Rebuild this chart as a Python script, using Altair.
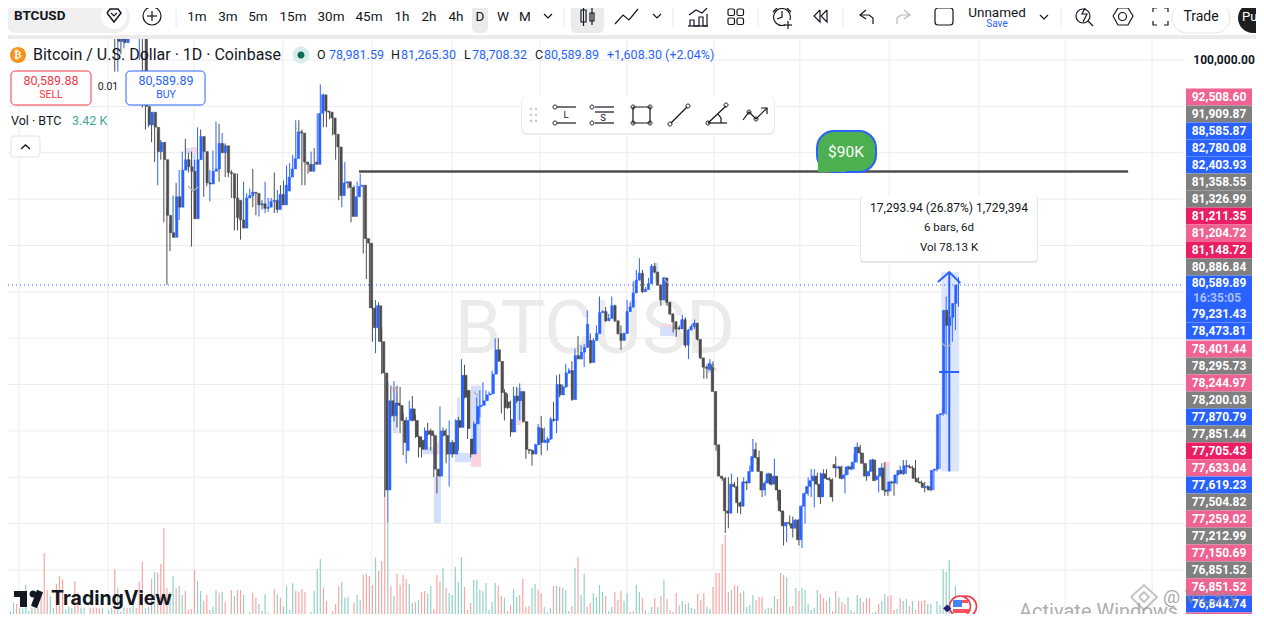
import altair as alt
import pandas as pd

# ---------- candles (prices in thousand USD) ----------
START_A, START_B, START_C = 36, 119, 232
close_a = [101.6,102,101.5,102,103,103,103,103,103,96.0,
 94.4,95.5,94.2,92.1,92.9,91.4,86.6,85.1,84.7,88.2,
 87.3,90.5,91.4,90.8,90.4,86.3,91.4,93.4,92.1,89.4,
 89.3,90.4,90.6,92.8,92.0,92.6,90.3,90.2,88.1,86.4,
 86.2,85.5,88.1,88.3,88.6,88.5,87.5,87.6,87.2,87.3,
 87.8,87.9,87.1,88.4,87.5,89.2,89.9,90.6,91.5,93.8,
 93.7,91.2,91.0,90.4,91.0,91.0,95.4,97.0,95.6,95.5,
 95.0,93.6,92.5,88.3,89.4,89.5,89.0,86.5,88.2,89.1,
 89.2,84.6,84.2]
high_a = [103,103,103,103,104,104,104,104,104,103,
 96.0,95.7,95.5,94.2,93.8,93.1,91.4,87.3,85.9,88.3,
 89.4,90.5,92.1,93.2,92.0,92.1,91.4,94.2,94.0,92.1,
 89.9,90.5,92.2,94.7,94.5,93.7,92.8,90.5,90.5,89.6,
 90.2,86.2,89.5,88.5,88.9,90.6,88.5,88.1,87.9,89.5,
 88.1,88.1,90.3,88.8,89.2,89.6,90.9,91.1,91.8,94.8,
 94.8,94.0,91.6,91.1,92.1,92.4,95.4,97.9,97.1,95.7,
 95.5,95.5,93.6,92.5,91.1,91.2,89.5,89.0,89.2,89.5,
 90.2,89.2,84.7]
low_a = [99,99,100.5,101,102.5,102.5,102.5,102.5,100,95.9,
 94.0,94.2,92.9,91.2,89.2,91.4,86.0,80.6,83.5,84.7,
 86.2,86.2,90.5,90.5,90.3,83.9,86.3,91.4,91.4,88.2,
 89.1,87.8,89.6,90.6,89.5,92.0,89.9,89.9,88.1,85.3,
 85.3,84.5,85.5,88.1,88.2,87.3,86.6,86.5,87.1,86.8,
 86.9,87.8,86.8,86.8,87.4,87.5,88.7,89.9,90.6,91.5,
 93.5,89.2,89.2,90.2,90.4,90.9,91.2,95.4,94.2,94.2,
 94.9,93.5,91.4,87.9,87.3,89.3,88.9,86.0,86.5,88.2,
 89.1,83.3,81.1]

close_b = [78.6,76.9,78.8,75.7,73.0,62.9,70.6,69.3,70.4,70.2,
 68.9,67.0,68.9,69.9,68.9,67.5,66.6,66.4,68.0,
 67.7,67.6,64.7,64.1,68.0,67.6,66.0,67.0,66.0,68.9,
 68.3,72.8,70.9,68.2,66.0,68.6,70.1,70.2,70.6,71.1,
 71.2,72.9,75.0,74.0,71.3,70.0,70.0,67.9,71.0,70.6,
 71.4,68.8,66.4,66.3,66.0,66.8,68.3,67.0,67.2,67.3,
 69.0,68.9,72.0,71.1,71.8,73.0,73.2,70.7,74.5,74.2,
 74.8,75.2,77.2,73.9,75.8,76.4,78.2,78.3,77.5,77.7,
 78.8,77.5,76.4,75.8,76.4,78.3,78.7,79.9,81.0,81.6,
 80.0,80.2,80.7,82.2,81.7,80.6,79.3,81.2,79.1,78.1,
 77.4,76.8,76.8,77.6,75.4,76.7,77.0,77.3,75.9,74.3,
 73.5,73.4,73.8,71.4]
high_b = [84.2,79.3,79.3,79.1,76.9,73.0,72.2,71.9,72.3,71.9,
 71.8,69.5,69.2,70.6,71.0,69.4,67.6,67.5,68.3,
 68.7,68.2,67.8,64.7,70.1,68.3,68.2,68.9,67.2,69.0,
 69.2,74.2,73.7,71.5,67.3,68.8,70.9,71.5,72.2,71.5,
 71.4,73.2,76.0,76.0,74.0,71.6,71.2,70.6,71.8,71.8,
 72.1,71.4,68.8,66.4,66.4,66.9,68.6,69.3,68.3,67.5,
 69.2,70.5,72.8,72.9,72.0,73.8,73.4,74.0,75.1,76.2,
 75.4,75.5,78.4,76.4,76.0,77.1,79.6,78.4,78.7,78.1,
 79.6,78.9,77.5,77.1,76.5,79.3,79.1,80.9,81.9,82.9,
 81.9,80.4,81.2,82.4,82.5,81.7,80.6,81.3,81.2,79.1,
 78.1,77.5,77.1,78.0,77.8,76.8,77.2,77.6,77.3,75.9,
 74.3,73.7,74.2,74.0]
low_b = [78.6,75.7,74.7,75.7,72.9,62.3,60.1,69.2,68.8,68.3,
 67.8,65.9,65.2,68.9,68.8,67.4,65.7,65.7,66.6,
 67.6,66.3,64.0,62.6,64.0,67.5,65.2,63.2,65.7,66.0,
 66.3,68.3,70.8,67.3,65.7,66.0,68.6,69.2,70.2,70.6,
 71.1,71.2,72.9,74.0,69.5,68.9,69.9,67.5,67.9,70.4,
 68.9,68.7,65.6,66.0,65.0,66.0,66.8,65.9,67.0,66.3,
 67.2,68.8,67.8,70.9,71.1,71.7,72.9,70.6,70.7,74.2,
 74.2,73.5,75.2,73.8,73.9,75.8,76.4,78.2,77.4,77.5,
 77.7,77.4,76.3,75.0,75.8,76.4,78.3,78.6,79.9,81.0,
 79.9,80.1,80.2,80.7,81.6,80.5,78.8,79.3,78.8,78.0,
 76.5,76.1,76.7,76.8,75.2,74.2,76.7,76.8,75.8,74.2,
 72.5,72.5,73.2,71.4]

close_c = [66.8,64.1,63.9,61.1,60.9,63.4,63.2,61.8,61.5,63.6,
 63.5,64.5,65.8,65.7,64.5,62.9,63.5,64.3,63.4,64.1,
 62.9,61.1,59.8,60.1,60.0,59.6,60.3,58.6,61.5,62.6,
 63.2,63.7,64.1,63.4,62.3,64.3,63.9,63.8,62.3,64.8,
 64.9,63.9,64.2,64.9,64.7,65.3,66.6,66.1,65.2,64.1,
 64.5,65.5,63.7,64.1,64.8,62.9,62.8,63.6,63.5,64.2,
 64.6,64.3,65.0,64.9,64.8,63.9,63.6,63.5,63.1,63.2,
 62.9,64.6,64.7,69.4,69.5,78.4,77.1,77.8,79.0,80.59]
high_c = [71.4,66.8,64.1,64.0,64.0,64.3,63.6,64.0,61.9,64.0,
 63.7,65.0,67.3,67.0,66.3,64.5,63.7,64.4,64.3,65.6,
 64.1,62.9,61.1,60.1,60.7,60.6,60.4,60.4,61.6,62.7,
 64.0,64.7,64.7,64.4,64.4,64.7,64.7,64.0,63.9,65.8,
 65.0,65.0,64.3,65.0,65.0,66.0,67.0,66.8,66.1,65.2,
 64.6,65.6,65.5,64.2,65.2,65.3,63.0,63.7,63.7,64.3,
 65.0,65.5,65.5,65.1,65.0,65.5,64.0,63.7,63.6,63.3,
 63.2,64.7,65.2,69.5,70.1,79.6,78.4,78.0,79.6,81.27]
low_c = [66.3,64.1,63.7,59.2,59.6,60.9,63.1,60.9,60.8,61.5,
 62.9,63.5,64.5,65.6,64.5,62.3,62.4,63.5,63.3,63.4,
 62.0,61.0,58.1,58.4,59.8,58.8,59.6,58.1,57.9,60.0,
 62.4,62.3,61.4,63.3,61.7,62.3,63.8,63.7,61.9,64.0,
 64.7,63.8,62.6,64.2,64.6,64.7,65.3,66.0,65.1,63.7,
 64.1,64.5,63.7,62.7,63.9,62.4,62.4,62.8,62.4,63.4,
 64.3,64.2,64.3,64.8,64.8,63.8,63.5,63.3,62.7,63.0,
 62.8,62.9,64.5,64.7,69.3,69.4,75.8,75.7,76.7,78.71]

# opens that do not equal the previous close, read separately
open_read = {76:87.9,92:88.7,101:91.2,131:66.3,136:67.2,139:68.0,151:71.5,152:67.3,164:70.5,
 165:69.0,175:68.2,177:67.0,191:75.8,220:76.9,230:73.3,231:73.7,245:66.4,271:65.1,285:63.8,311:78.98}

# ---------- volume (K BTC) ----------
vol_a = [8.4,2.9,3.3,6.9,6.4,4.7,4.7,14,3.6,4.9,
 4.9,4.9,10,26.7,12,9.6,4.9,14.4,17.6,16.3,
 4.3,5.3,4.9,15.6,10.9,4.9,4.9,2,4.9,4.9,
 4.9,4.9,4.9,2.3,4,4.9,20.4,13.1,3.3,4.9,
 4.9,4.9,8,4.9,15.3,23.3,4.9,5.3,16.4,19.2,
 18.9,22.4,36.7,12.7,11.3,17.6,12.7,13.6,10,11.6,
 4,4.4,20,15.6,11.6,7.7,10,4,5.3,12,
 10.9,11.2,7.3,2.4,12,9.6,12,12,10,2.4,
 3.3,10.9,8.9,6.4,3.6,10.4,2.9,2.4,12.4,10.4,
 8.9,5.3,13.6,4,14.7,11.6,11.3,12.4,11.3,2.4,
 3.3,11.6,20.4,24.4,
 13,7.6,2.4,3.6,6.4,13.6,15.2,8.9,9.2,2.4,
 6.9,10,8,18,18.4,17.6,14,25,19.6,23.6,
 49.3,39.2,
 13.6,9.6,18.4,14,18,16.4,14.4,6.9,7.2,8,
 11.2,11.6,10.4,13.6,4.4,18,15.2,20.8,12.7,10.8,
 10,21.2,15.2,25.2,13.2,4,6.8,16,16,12,
 11.6,14.8,4,7.2,14.8,13.6]
dir_a = ("tsttsttttt" "stsssttsss" "tttsstttss" "ssttttstst" "sttsssttst" "ssssttstts"
 "sssttssstt" "stssstsstt" "tsststttst" "sttttsssss" "tttt"
 "ssssssttts" "sttsssstss" "st" "stssssttst" "ssttssstst" "ttttsssttt" "ttttts")
vol_b = [9.6,8.8,3.6,6,12.4,9.2,10,16.4,5.2,
 5.6,12.8,14.4,12,10.8,5.2,3.2,4.8,13.6,13.6,
 13.2,12.8,12,3.6,5.6,20.8,25.2,10,18.4,
 5.2,6.8,10.8,9.2,14,11.2,9.6,3.6,5.2,11.2,
 8,11.6,7.6,10.8,3.2,3.6,14,11.2,8.8,
 4,2.8,5.2,8.8,5.2,9.6,16,8.4,4,3.2,
 10.8,6,7.6,6.4,6.8,4.8,4.4,10.4,8,
 10.8,5.2,4.4,13.2,18.8,18.8,30.4,34,11.2,
 12,14,13.6,10.8,11.6,5.2,6,10,8,
 9.2,9.2,4.4,4.8,4.8,9.6,8.4,18.8,18,17.2,
 5.2,5.6,12.8,11.6,12.8,12,6.4,4,4.8,12,
 10.4,8.8,7.6,9.2,3.6,11.6,9.2,7.2,6.4,
 9.2,4,3.2,10,8.8,7.2,8.8,8.8,2.8,3.2,
 6.4,7.6,10.4,9.6,10,4,4.4,8.8,7.6,8.4,
 5.6,7.6,4,7.6,7.6,8,6.4,6.4,2,
 7.6,6,20.4,19.2,24,8,13.6,1.3]
dir_b = ("stssttsss" "sttsstttst" "stttststt" "ssttttstts" "sstttstts" "tttststsss"
 "sttstttss" "sttssssss" "tssstttts" "ssttstssst" "sststttttt" "ssstsstss"
 "ttsttssstt" "sttssststt" "stsssstts" "tttttttt")

# ---------- grid, levels, annotation boxes ----------
grid_prices = [100,96,92,88,84,80,76,72,68,64,60,56,52]
grid_bars = [4.8,33.8,61.8,90.8,119.8,145.9,174.6,202.9,231.3,259.3,288.4,317.7,345.8,374.1]
last_price = 80.59
level_price, level_from, level_to = 90.38, 115.6, 366.3
box_bar1 = [140.1,152.1,152.1,146.9,147.6,136.5,140.4,126.7,126.4,213.7,213.7,167.1,167.1,229,212.1,58.9,60.9,60.9,286.4,286.4]
box_bar2 = [142.3,155.4,155.4,152.4,148.5,141.4,141.7,128.3,128.3,219.3,217.6,168.7,168.4,231,213.1,62.8,62.5,62.5,288.7,288.7]
box_top  = [64.0,71.9,66.2,66.1,70.9,66.6,67.0,71.3,71.8,77.0,77.2,71.7,68.9,73.9,82.5,92.4,91.9,92.5,65.3,65.3]
box_bot  = [60.05,66.2,64.9,65.3,68.9,66.0,66.0,67.8,71.3,76.2,77.0,68.9,68.5,73.0,80.8,91.9,88.6,91.9,62.7,64.9]
box_kind = list("bbpbbbpbpbpbpbbbbpbp")
measure_bars = [305.4,311.2]; measure_prices = [81.7,64.5]
measure_mid_price = 73.08
measure_cross_bars = [304.7,311.2]
measure_shaft_bar = 308
arrow_bars = [304.3,308,311.6]; arrow_prices = [80.85,81.71,80.76]

# ---------- side price tags ----------
tag_text = ["92,508.60","91,909.87","88,585.87","82,780.08","82,403.93","81,358.55","81,326.99","81,211.35","81,204.72","81,148.72","80,886.84","80,589.89","79,231.43","78,473.81","78,401.44","78,295.73","78,244.97","78,200.03","77,870.79","77,851.44","77,705.43","77,633.04","77,619.23","77,504.82","77,259.02","77,212.99","77,150.69","76,851.52","76,851.52","76,844.74","76,635.43"]
tag_kind = list("pgbbbgg") + ["c","p","c","g","b","b","b","p","g","p","g","b","g","c","p","b","g","p","g","p","g","p","b","p"]
tag_row_y = [97,114,131,148,165,182,199,216,233,250,267,284,314,331,349,366,383,400,417,434,451,468,485,502,519,536,553,570,587,604,621]
TAG = {"p":"#f06292","g":"#808080","b":"#2962ff","c":"#e91e63"}

W, H = 1248, 606
xs = alt.Scale(domain=[1.206,407.98], range=[0,W], nice=False, zero=False)
ys = alt.Scale(domain=[52.2,104.49], range=[H,0], nice=False, zero=False)
vs = alt.Scale(domain=[2.4,244.8], range=[H,0], nice=False, zero=False)
UP, DOWN = "#2962ff", "#4d4d4d"
ONE = pd.DataFrame({"a":[0]})

rows = []
prev = None
for start, cc, hh, ll in [(START_A,close_a,high_a,low_a),(START_B,close_b,high_b,low_b),(START_C,close_c,high_c,low_c)]:
    for k,(c,h,l) in enumerate(zip(cc,hh,ll)):
        i = start+k
        o = open_read.get(i, prev if prev is not None else c+1)
        rows.append(dict(i=i,o=o,h=h,l=l,c=c,d="t" if c>=o else "s"))
        prev = c
cdf = pd.DataFrame(rows)

vrows = [dict(i=i,v=v,b=0,d=dir_a[i]) for i,v in enumerate(vol_a)]
vrows += [dict(i=162+j,v=v,b=0,d=dir_b[j]) for j,v in enumerate(vol_b)]
vdf = pd.DataFrame(vrows)

X = lambda f: alt.X(f, scale=xs, axis=None)
Y = lambda f: alt.Y(f, scale=ys, axis=None)
layers = []

# grid
layers.append(alt.Chart(pd.DataFrame({"p":grid_prices})).mark_rule(color="#ececec",strokeWidth=1).encode(y=Y("p:Q"),x=alt.value(0),x2=alt.value(1176)))
layers.append(alt.Chart(pd.DataFrame({"i":grid_bars})).mark_rule(color="#ececec",strokeWidth=1).encode(x=X("i:Q"),y=alt.value(32),y2=alt.value(606)))

# watermark
layers.append(alt.Chart(ONE).mark_text(text="BTCUSD",font="Roboto",fontSize=75,color="#ebebeb",align="center",baseline="middle").encode(x=alt.value(587),y=alt.value(322)))

# volume
layers.append(alt.Chart(vdf).mark_rule(strokeWidth=1.2).encode(x=X("i:Q"),y=alt.Y("v:Q",scale=vs,axis=None),y2="b:Q",
    color=alt.Color("d:N",scale=alt.Scale(domain=["t","s"],range=["#8fd2c6","#f9a5a2"]),legend=None)))

# annotation boxes
bdf = pd.DataFrame({"a":box_bar1,"b":box_bar2,"t":box_top,"u":box_bot,"k":box_kind})
layers.append(alt.Chart(bdf).mark_rect().encode(x=X("a:Q"),x2="b:Q",y=Y("t:Q"),y2="u:Q",
    color=alt.Color("k:N",scale=alt.Scale(domain=["b","p"],range=["#d3dffb","#fbd3de"]),legend=None)))
layers.append(alt.Chart(pd.DataFrame({"a":[measure_bars[0]],"b":[measure_bars[1]],"t":[measure_prices[0]],"u":[measure_prices[1]]})).mark_rect(color="#dde6fd").encode(x=X("a:Q"),x2="b:Q",y=Y("t:Q"),y2="u:Q"))

# dotted last price
layers.append(alt.Chart(pd.DataFrame({"p":[last_price]})).mark_rule(color="#2962ff",strokeWidth=1.2,strokeDash=[1,3]).encode(y=Y("p:Q"),x=alt.value(0),x2=alt.value(1176)))

# candles
cc = alt.Color("d:N",scale=alt.Scale(domain=["t","s"],range=[UP,DOWN]),legend=None)
layers.append(alt.Chart(cdf).mark_rule(strokeWidth=1,clip=True).encode(x=X("i:Q"),y=Y("l:Q"),y2="h:Q",color=cc))
layers.append(alt.Chart(cdf).mark_bar(size=2.4,clip=True,strokeWidth=0.5).encode(x=X("i:Q"),y=Y("o:Q"),y2="c:Q",color=cc,stroke=alt.Stroke("d:N",scale=alt.Scale(domain=["t","s"],range=[UP,DOWN]),legend=None)))

# level, measure
layers.append(alt.Chart(pd.DataFrame({"p":[level_price],"a":[level_from],"b":[level_to]})).mark_rule(color="#4d4d4d",strokeWidth=2.5).encode(y=Y("p:Q"),x=X("a:Q"),x2="b:Q"))
layers.append(alt.Chart(pd.DataFrame({"i":[measure_shaft_bar],"t":[measure_prices[0]],"u":[measure_prices[1]]})).mark_rule(color="#2962ff",strokeWidth=2).encode(x=X("i:Q"),y=Y("t:Q"),y2="u:Q"))
layers.append(alt.Chart(pd.DataFrame({"p":[measure_mid_price],"a":[measure_cross_bars[0]],"b":[measure_cross_bars[1]]})).mark_rule(color="#2962ff",strokeWidth=2).encode(y=Y("p:Q"),x=X("a:Q"),x2="b:Q"))
layers.append(alt.Chart(pd.DataFrame({"i":arrow_bars,"p":arrow_prices,"n":[0,1,2]})).mark_line(color="#2962ff",strokeWidth=2).encode(x=X("i:Q"),y=Y("p:Q"),order="n:Q"))

# ---------- interface helpers (reference pixel coordinates) ----------
def rr(x1,y1,x2,y2,fill="#ffffff",stroke=None,r=0,sw=1,op=1):
    kw = dict(cornerRadius=r,fill=fill,opacity=op)
    if stroke: kw.update(stroke=stroke,strokeWidth=sw)
    return alt.Chart(ONE).mark_rect(**kw).encode(x=alt.value(x1-8),x2=alt.value(x2-8),y=alt.value(y1-8),y2=alt.value(y2-8))
def circ(cx,cy,rad,fill="#ffffff",stroke=None,sw=1):
    return rr(cx-rad,cy-rad,cx+rad,cy+rad,fill,stroke,rad,sw)

polys=[]
def poly(pts,color="#131722",w=1.2):
    g=len(polys)
    polys.append([dict(g=g,n=n,x=p[0]-8,y=p[1]-8,c=color,w=w) for n,p in enumerate(pts)])
def chev(x,y,color="#131722"):
    poly([(x-4,y-2),(x,y+2),(x+4,y-2)],color)

texts=[]
def T(s,x,y,size=13,color="#131722",align="left",weight="normal",op=1,font="Roboto"):
    texts.append(dict(s=s,x=x-8,y=y-8,z=size,c=color,al=align,we=weight,op=op,f=font))

# small gray pattern markers seen over the candles
for pts in [[(188,186),(193,191),(198,187)],[(942,343),(947,348),(951,344)],[(664,279),(668,283)],[(712,365),(716,370)],[(393,386),(398,391)],[(474,392),(478,396)]]:
    poly(pts,"#b0b0b0",1.2)

# $90K bubble
bubble=[rr(817,131,876,172,"#4caf50","#2962ff",17,2), rr(818,152,846,172,"#4caf50")]
T("$90K",846,152,15.5,"#ffffff","center")
# measure tooltip
tip=[rr(860,196,1038,263,"#e6e6e6",None,3), rr(861,196,1037,261,"#ffffff",None,3)]
T("17,293.94 (26.87%)  1,729,394",949,208,12,align="center")
T("6 bars, 6d",949,228,11.5,align="center")
T("Vol 78.13 K",949,248,11.5,align="center")

# price tags
tdf=pd.DataFrame({"x":[1186-8]*len(tag_text),"x2":[1252-8]*len(tag_text),
    "y":[y-8.5-8 for y in tag_row_y],"y2":[y+8.5-8 for y in tag_row_y],"c":[TAG[k] for k in tag_kind]})
tags=[alt.Chart(tdf).mark_rect().encode(x=alt.X("x:Q",scale=None,axis=None),x2="x2:Q",y=alt.Y("y:Q",scale=None,axis=None),y2="y2:Q",color=alt.Color("c:N",scale=None)),
      rr(1186,276,1252,322,"#2962ff")]
for s,y in zip(tag_text,tag_row_y):
    T(s,1219,y if y!=284 else 283,12,"#ffffff","center","bold")
T("16:35:05",1217,298,12,"#a8c0ff","center","bold")
T("100,000.00",1224,60,12,"#131722","center","bold")

# header legend
head=[circ(18,55,8,"#f7931a"),circ(301,55,8.5,"#d9ece7"),circ(301,55,3.5,"#0b6b57"),
      rr(11,71,91,105,"#ffffff","#f23645",4,1),rr(126,71,205,105,"#ffffff","#2962ff",4,1),
      rr(11,136,40,157,"#ffffff","#e0e3eb",3,1)]
T("₿",18,55,11,"#ffffff","center","bold",font="DejaVu Sans")
T("Bitcoin / U.S. Dollar · 1D · Coinbase",33,55,16,"#131722")
for lab,x,val,vx in [("O",317,"78,981.59",329),("H",391,"81,265.30",401),("L",464,"78,708.32",472),("C",535,"80,589.89",544)]:
    T(lab,x,55,12.5); T(val,vx,55,12.5,"#2962ff")
T("+1,608.30 (+2.04%)",607,55,12.5,"#2962ff")
T("80,589.88",51,81,12.5,"#f23645","center")
T("SELL",51,95,10.5,"#f23645","center")
T("80,589.89",166,81,12.5,"#2962ff","center")
T("BUY",166,95,10.5,"#2962ff","center")
T("0.01",108,87,10.5,"#131722","center")
T("Vol · BTC",11,121,12.5)
T("3.42 K",72,121,12.5,"#3ea99a")
poly([(21,149),(25.5,145),(30,149)],"#131722",1.4)

# floating drawing toolbar
floatbar=[rr(521,96,775,135,"#ececec",None,6),rr(522,96,774,133,"#ffffff",None,6)]
for dx in (531,536):
    for dy in (109,115,121):
        floatbar.append(circ(dx,dy,1.2,"#c8c8c8"))
poly([(557,107),(576,107)]);poly([(557,123),(576,123)])
poly([(595,107),(614,107)]);poly([(595,112),(614,112)]);poly([(595,123),(614,123)])
poly([(633,107),(650,107),(650,123),(633,123),(633,107)])
poly([(671,123),(687,107)]);poly([(708,123),(726,106)]);poly([(708,123),(727,123)]);poly([(718,114),(721,118),(721,123)])
poly([(743,120),(749,112),(756,119),(767,108)]);poly([(761,108),(767,108),(767,114)])
for cx,cy in [(555,107),(555,123),(592,107),(592,123),(633,107),(650,107),(633,123),(650,123),(670,124),(688,106),(708,123),(726,105),(749,112),(756,119)]:
    floatbar.append(circ(cx,cy,2,"#ffffff","#131722",1))
T("L",566,115,9.5,align="center"); T("S",603,118,9.5,align="center")

# logo
logo=[rr(14,591,27,597,"#131722"),rr(20,591,27,607,"#131722"),circ(33,594,3.5,"#131722")]
poly([(40,591),(34,607)],"#131722",6.5)
T("TradingView",51,599,19.5,"#131722",weight="bold",font="Inter")

# event flag
flag=[circ(966,606.5,10.5,"#ffffff","#f23645",1.6),circ(960,606.5,10.5,"#ffffff","#f23645",1.6),
      rr(953,609,969,613,"#f7525f"),rr(953,600,968,603,"#f7525f"),rr(953,600,962,607,"#4285f4")]
T("◆",947,608,10,"#1a237e","center",font="DejaVu Sans")

# screenshot watermarks
T("@ Vic3ry",1163,597,19,"#8c8c8c",op=0.75)
T("Activate Windows",1019,612,20,"#9a9a9a",op=0.8)
poly([(1131,597),(1144,585),(1157,597),(1144,610),(1131,597)],"#c4c4c4",2)
poly([(1139,597),(1144,592),(1149,597),(1144,602),(1139,597)],"#c4c4c4",2)

# top toolbar
top=[rr(0,0,1264,35,"#ffffff"),rr(0,35,1264,39,"#ebebeb"),rr(0,39,2,622,"#ebebeb"),
     rr(2,2,130,33,"#f0f0f0",None,15),circ(114,16,13,"#ffffff"),circ(152,16,9,"#ffffff","#131722",1.2),
     rr(472,0,488,33,"#ebebeb",None,5),rr(571,0,604,33,"#ebebeb",None,5),
     rr(1172,3,1230,33,"#ffffff","#e6e6e6",15),rr(1238,3,1290,33,"#1e1e1e",None,15),
     rr(935,8,953,25,"#ffffff","#131722",3,1.2)]
for x,y1,y2 in [(176,6,27),(564,6,27),(673,6,27),(758,6,27),(843,6,27),(1061,6,27)]:
    poly([(x,y1),(x,y2)],"#e8e8e8",1)
T("BTCUSD",14,16,13.5,"#131722",weight="bold")
poly([(107,13),(110,9),(118,9),(121,13),(114,22),(107,13)],"#131722",1.5)
poly([(111,13),(114,16),(117,13)],"#131722",1.2)
poly([(152,11),(152,21)]);poly([(147,16),(157,16)])
for s,x in [("1m",197),("3m",228),("5m",258),("15m",293),("30m",331),("45m",369),("1h",402),("2h",429),("4h",456),("D",480),("W",503),("M",525)]:
    T(s,x,17,13.5,align="center")
chev(548,16);chev(657,16);chev(1044,17)
poly([(583.5,6),(583.5,26)]);poly([(592,8),(592,25)])
top2=[rr(581,10,586,22,"#ffffff","#131722",0,1.2),rr(590,13,594,21,"#ffffff","#131722",0,1.2)]
poly([(615,24),(623,15),(629,20),(638,9)])
poly([(689,15),(696,10),(702,13),(707,8)])
poly([(690,26),(690,20),(694,20),(694,26),(699,26),(699,17),(703,17),(703,26),(707,26),(707,14)]);poly([(688,26),(708,26)])
for a,b in [(728,9),(737,9),(728,18),(737,18)]:
    top2.append(rr(a,b,a+6.5,b+6.5,"#ffffff","#131722",1.5,1.2))
top2.append(circ(782,17,8.5,"#ffffff","#131722",1.2))
poly([(782,11),(782,17),(777,19)]);poly([(773,12),(777,8)]);poly([(787,8),(791,12)])
top2.append(rr(785,20,792,28,"#ffffff"))
poly([(788,21),(788,29)]);poly([(784,25),(792,25)])
poly([(820,10),(814,16),(820,22),(820,10)]);poly([(827,10),(821,16),(827,22),(827,10)])
poly([(866,10),(860,15),(866,19)]);poly([(860,15),(869,15),(873,18),(873,24)])
poly([(904,10),(910,15),(904,19)],"#b8b8b8");poly([(910,15),(901,15),(897,18),(897,24)],"#b8b8b8")
T("Unnamed",997,13,13.5,"#131722","center")
T("Save",997,24,10,"#2962ff","center")
top2.append(circ(1083,16,7,"#ffffff","#131722",1.2))
poly([(1088,21),(1093,26)]);poly([(1086,6),(1082,14),(1087,14),(1083,22)])
poly([(1113,16),(1118,8),(1128,8),(1133,16),(1128,25),(1118,25),(1113,16)])
top2.append(circ(1122.5,16.5,4,"#ffffff","#131722",1.2))
for pts in [[(1153,12),(1153,8),(1157,8)],[(1164,8),(1168,8),(1168,12)],[(1153,21),(1153,25),(1157,25)],[(1164,25),(1168,25),(1168,21)]]:
    poly(pts)
T("Trade",1201,17,14,"#131722","center")
T("Pu",1242,17,13,"#ffffff","left")

layers += tags + bubble + tip + head + flag + floatbar + logo + top + top2

# polylines
pdf=pd.DataFrame([r for p in polys for r in p])
layers.append(alt.Chart(pdf).mark_line(fill=None).encode(
    x=alt.X("x:Q",scale=None,axis=None),y=alt.Y("y:Q",scale=None,axis=None),
    detail="g:N",order="n:Q",color=alt.Color("c:N",scale=None),
    strokeWidth=alt.StrokeWidth("w:Q",scale=None)))

# texts
tx=pd.DataFrame(texts)
for (al,we,f),g in tx.groupby(["al","we","f"]):
    layers.append(alt.Chart(g).mark_text(align=al,baseline="middle",fontWeight=we,font=f).encode(
        x=alt.X("x:Q",scale=None,axis=None),y=alt.Y("y:Q",scale=None,axis=None),text="s:N",
        size=alt.Size("z:Q",scale=None),color=alt.Color("c:N",scale=None),opacity=alt.Opacity("op:Q",scale=None)))

chart=alt.layer(*layers).resolve_scale(x="independent",y="independent",color="independent",size="independent",opacity="independent",stroke="independent",strokeWidth="independent").properties(
    width=W,height=H,padding=0,background="#ffffff",autosize=alt.AutoSizeParams(type="none")
).configure_view(stroke=None)
chart.save("out.html",embed_options={"renderer":"svg","actions":False})
